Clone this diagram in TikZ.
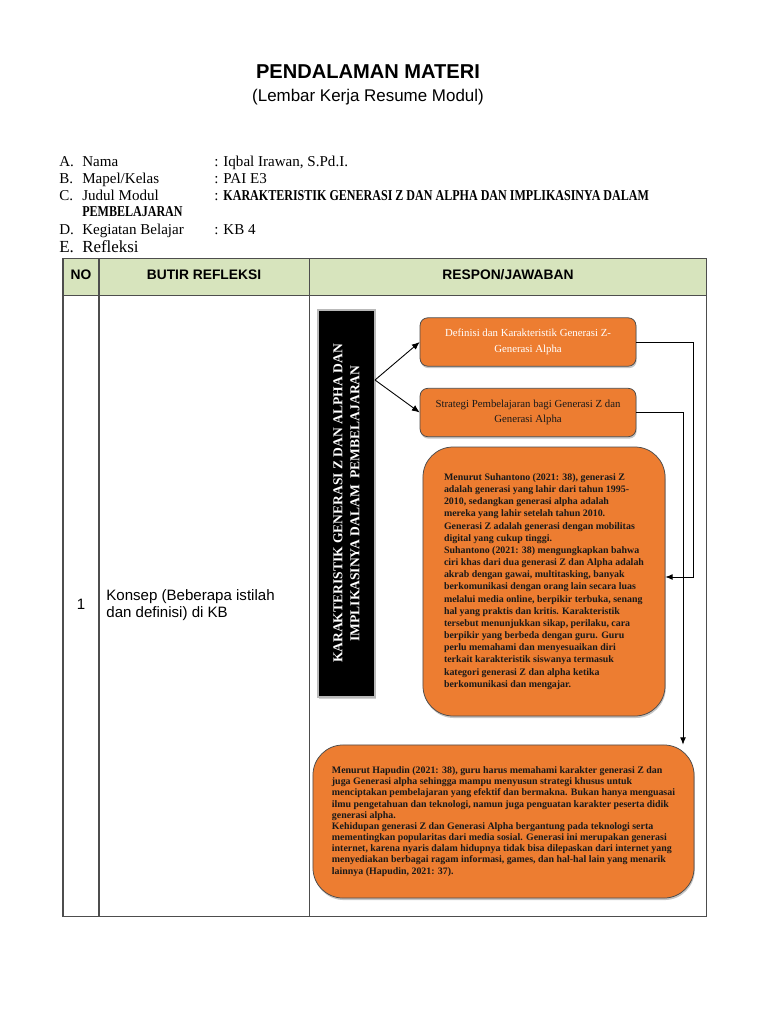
\documentclass[tikz,border=0pt]{standalone}
\usepackage{fontspec}
\setmainfont{Liberation Serif}
\setsansfont{Liberation Sans}
\newfontfamily\sempit{Liberation Serif}[FakeStretch=0.8]
\usepackage{xcolor}
\usetikzlibrary{arrows.meta,positioning,shadows}
\definecolor{oranye}{HTML}{ED7D31}
\definecolor{hijauMuda}{HTML}{D7E4BD}
\definecolor{garisAbu}{HTML}{4D4D4D}
\tikzset{
    isian/.style={anchor=base west, inner sep=0pt, font=\fontsize{12}{14}\selectfont},
    kepala/.style={font=\sffamily\bfseries\fontsize{11}{13}\selectfont},
    kotak/.style={
        rectangle,
        draw=black!70,
        line width=0.6pt,
        fill=oranye,
        rounded corners=6pt,
        drop shadow={shadow xshift=0.6pt, shadow yshift=-1.6pt, opacity=0.45}
    },
    kotakJudul/.style={kotak, align=center, minimum width=172pt, minimum height=38.5pt},
    kotakIsi/.style={
        kotak,
        align=left,
        rounded corners=24pt,
        text=black!90,
        font=\bfseries\fontsize{7.9}{9.7}\selectfont
    },
    balokHitam/.style={
        rectangle,
        fill=black,
        draw=gray!55,
        line width=1.2pt,
        text=white,
        align=center,
        font=\bfseries\fontsize{10.8}{13.5}\selectfont,
        drop shadow={shadow xshift=0.6pt, shadow yshift=-1.6pt, opacity=0.35}
    },
    panah/.style={-{Latex[length=2.2mm, width=1.8mm]}, line width=0.7pt},
    garis/.style={-{Latex[length=2mm, width=1.6mm]}, line width=0.6pt}
}

\begin{document}
\begin{tikzpicture}[x=0.797pt, y=-0.797pt]
    \fill[white] (0,0) rectangle (768,1024);
    \useasboundingbox (0,0) rectangle (768,1024);

    % judul
    \node[font=\sffamily\bfseries\fontsize{16}{19}\selectfont] (judul) at (368,72)
        {PENDALAMAN MATERI};
    \node[font=\sffamily\fontsize{13.5}{16}\selectfont] (subjudul) at (368,97)
        {(Lembar Kerja Resume Modul)};

    % identitas
    \node[isian] (hurufA) at (59,166) {A.};
    \node[isian] (labelA) at (82,166) {Nama};
    \node[isian] (isiA) at (214,166) {: Iqbal Irawan, S.Pd.I.};
    \node[isian] (hurufB) at (59,183) {B.};
    \node[isian] (labelB) at (82,183) {Mapel/Kelas};
    \node[isian] (isiB) at (214,183) {: PAI E3};
    \node[isian] (hurufC) at (59,200) {C.};
    \node[isian] (labelC) at (82,200) {Judul Modul};
    \node[isian] (isiC) at (214,200)
        {: {\sempit\bfseries KARAKTERISTIK GENERASI Z DAN ALPHA DAN IMPLIKASINYA DALAM}};
    \node[isian] (lanjutC) at (82,216) {\sempit\bfseries PEMBELAJARAN};
    \node[isian] (hurufD) at (59,234) {D.};
    \node[isian] (labelD) at (82,234) {Kegiatan Belajar};
    \node[isian] (isiD) at (214,234) {: KB 4};
    \node[isian, font=\fontsize{13.5}{15}\selectfont] (hurufE) at (59,252) {E.};
    \node[isian, font=\fontsize{13.5}{15}\selectfont] (labelE) at (82,252) {Refleksi};

    % tabel
    \fill[hijauMuda] (63,258) rectangle (706,295);
    \draw[garisAbu, line width=0.8pt] (63,258) rectangle (706,916);
    \draw[garisAbu, line width=0.8pt] (63,295) -- (706,295);
    \draw[garisAbu, line width=0.8pt] (99,258) -- (99,916);
    \draw[garisAbu, line width=0.8pt] (309,258) -- (309,916);

    \node[kepala] (kolNo) at (81,275) {NO};
    \node[kepala] (kolButir) at (204,275) {BUTIR REFLEKSI};
    \node[kepala] (kolRespon) at (508,275) {RESPON/JAWABAN};

    \node[font=\sffamily\fontsize{12}{14}\selectfont] (nomor) at (81,604) {1};
    \node[font=\sffamily\fontsize{12}{13.6}\selectfont, anchor=west, align=left] (butir) at (102,605)
        {Konsep (Beberapa istilah\\dan definisi) di KB};

    % peta konsep
    \node[balokHitam, minimum width=308.4pt, minimum height=45.4pt, rotate=90] (tema) at (346.5,503.5)
        {KARAKTERISTIK GENERASI Z DAN ALPHA DAN\\IMPLIKASINYA DALAM\ \ PEMBELAJARAN};

    \node[kotakJudul, text=white, font=\fontsize{8.6}{13}\selectfont] (definisi) at (528,342)
        {Definisi dan Karakteristik Generasi Z-\\Generasi Alpha};
    \node[kotakJudul, text=black!90, font=\fontsize{8.6}{12.5}\selectfont] (strategi) at (528,412.5)
        {Strategi Pembelajaran bagi Generasi Z dan\\Generasi Alpha};

    \node[kotakIsi, minimum width=192.9pt, minimum height=214.4pt] (suhantono) at (544,581.5)
        {Menurut Suhantono (2021: 38), generasi Z\\
         adalah generasi yang lahir dari tahun 1995-\\
         2010, sedangkan generasi alpha adalah\\
         mereka yang lahir setelah tahun 2010.\\
         Generasi Z adalah generasi dengan mobilitas\\
         digital yang cukup tinggi.\\
         Suhantono (2021: 38) mengungkapkan bahwa\\
         ciri khas dari dua generasi Z dan Alpha adalah\\
         akrab dengan gawai, multitasking, banyak\\
         berkomunikasi dengan orang lain secara luas\\
         melalui media online, berpikir terbuka, senang\\
         hal yang praktis dan kritis. Karakteristik\\
         tersebut menunjukkan sikap, perilaku, cara\\
         berpikir yang berbeda dengan guru. Guru\\
         perlu memahami dan menyesuaikan diri\\
         terkait karakteristik siswanya termasuk\\
         kategori generasi Z dan alpha ketika\\
         berkomunikasi dan mengajar.};

    \node[kotakIsi, minimum width=303.7pt, minimum height=122pt, font=\bfseries\fontsize{7.9}{8.9}\selectfont] (hapudin) at (503.5,821.5)
        {Menurut Hapudin (2021: 38), guru harus memahami karakter generasi Z dan\\
         juga Generasi alpha sehingga mampu menyusun strategi khusus untuk\\
         menciptakan pembelajaran yang efektif dan bermakna. Bukan hanya menguasai\\
         ilmu pengetahuan dan teknologi, namun juga penguatan karakter peserta didik\\
         generasi alpha.\\
         Kehidupan generasi Z dan Generasi Alpha bergantung pada teknologi serta\\
         mementingkan popularitas dari media sosial. Generasi ini merupakan generasi\\
         internet, karena nyaris dalam hidupnya tidak bisa dilepaskan dari internet yang\\
         menyediakan berbagai ragam informasi, games, dan hal-hal lain yang menarik\\
         lainnya (Hapudin, 2021: 37).};

    \coordinate (cabang) at (375,380);
    \coordinate (belokA) at (693,577);
    \coordinate (belokB) at (683,745);

    \draw[panah] (cabang) -- (definisi.west);
    \draw[panah] (cabang) -- (strategi.west);
    \draw[garis] (definisi.east) -| (belokA) -- (suhantono.east |- belokA);
    \draw[garis] (strategi.east) -| (hapudin.north -| belokB);
\end{tikzpicture}
\end{document}
